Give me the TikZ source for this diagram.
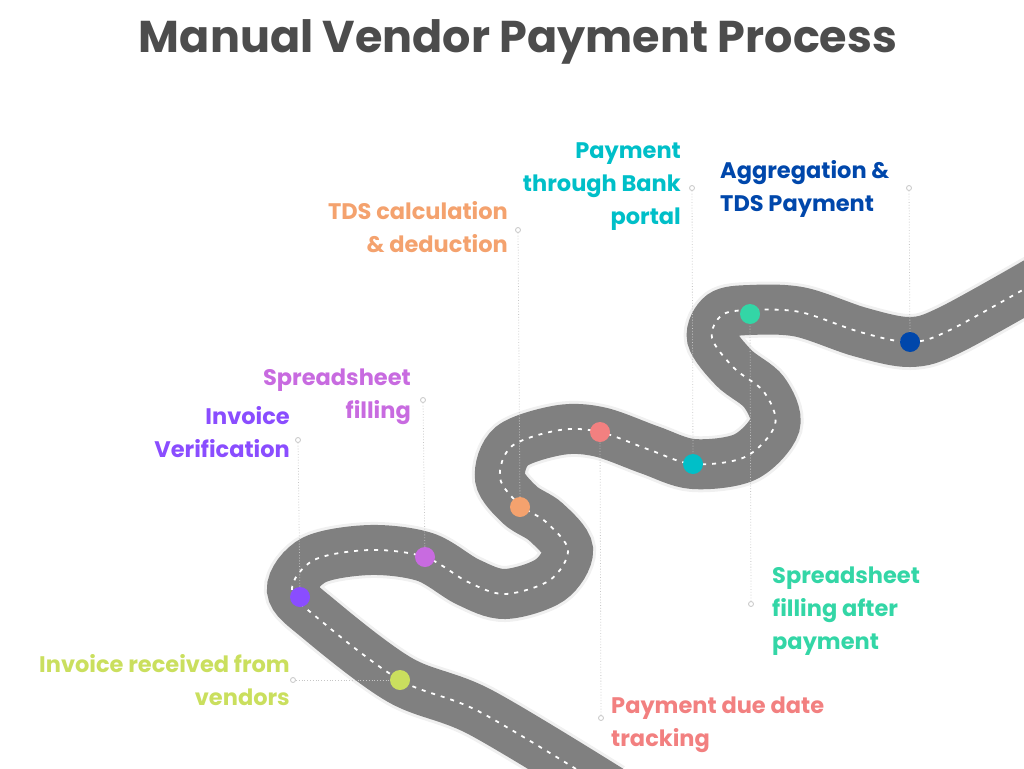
\documentclass[tikz,border=0pt]{standalone}
\usepackage{fontspec}
\setmainfont{Poppins}
\begin{document}
\begin{tikzpicture}[x=1pt,y=-1pt,
  lbl/.style={font=\bfseries\fontsize{22.5}{33}\selectfont,inner sep=0pt},
  dotc/.style={circle,minimum size=20pt,inner sep=0pt},
  pin/.style={circle,draw=gray!45,line width=0.8pt,minimum size=5pt,inner sep=0pt,fill=white},
  lead/.style={draw=gray!45,line width=0.8pt,dotted}]
\definecolor{cA}{HTML}{CADF5E}\definecolor{cB}{HTML}{8A4DFF}\definecolor{cC}{HTML}{C86BE0}
\definecolor{cD}{HTML}{F4A26E}\definecolor{cE}{HTML}{F28080}\definecolor{cF}{HTML}{00BFC8}
\definecolor{cG}{HTML}{33D6A6}\definecolor{cH}{HTML}{0047AB}
\useasboundingbox (0,0) rectangle (1024,768);
\clip (0,0) rectangle (1024,768);
\node[font=\bfseries\fontsize{44.5}{52}\selectfont,text=black!70] (title) at (518,42) {Manual Vendor Payment Process};
\def\road{plot[smooth,tension=0.55] coordinates{(610,790)(480,712)(400,680)(320,620)(292,590)(314,560)(370,550)(425,557)(468,582)(505,594)(550,580)(568,550)(546,522)(520,505)(500,478)(512,446)(560,430)(600,432)(650,450)(693,464)(745,457)(775,425)(764,392)(734,368)(712,338)(722,315)(750,310)(800,312)(860,332)(910,342)(950,330)(1040,280)}}
\draw[line width=56pt,black!6] \road;
\draw[line width=50pt,black!50] \road;
\draw[line width=1.8pt,white,dash pattern=on 4pt off 6pt] \road;
% pins
\node[pin] (p1) at (293,680) {};
\node[pin] (p2) at (298,440) {};
\node[pin] (p3) at (423,400) {};
\node[pin] (p4) at (518,230) {};
\node[pin] (p5) at (601,718) {};
\node[pin] (p6) at (692,188) {};
\node[pin] (p7) at (751,604) {};
\node[pin] (p8) at (909,188) {};
% dots
\node[dotc,fill=cA] (d1) at (400,680) {};
\node[dotc,fill=cB] (d2) at (300,597) {};
\node[dotc,fill=cC] (d3) at (425,557) {};
\node[dotc,fill=cD] (d4) at (520,507) {};
\node[dotc,fill=cE] (d5) at (600,432) {};
\node[dotc,fill=cF] (d6) at (693,464) {};
\node[dotc,fill=cG] (d7) at (750,314) {};
\node[dotc,fill=cH] (d8) at (910,342) {};
\path[lead] (p1) -- (d1); \path[lead] (p2) -- (d2); \path[lead] (p3) -- (d3);
\path[lead] (p4) -- (d4); \path[lead] (p5) -- (d5); \path[lead] (p6) -- (d6);
\path[lead] (p7) -- (d7); \path[lead] (p8) -- (d8);
% labels
\node[lbl,text=cA,align=right,anchor=north east] (l1) at (290,654) {Invoice received from\\vendors};
\node[lbl,text=cB,align=right,anchor=north east] (l2) at (290,406) {Invoice\\Verification};
\node[lbl,text=cC,align=right,anchor=north east] (l3) at (411,369) {Spreadsheet\\filling};
\node[lbl,text=cD,align=right,anchor=north east] (l4) at (508,201) {TDS calculation\\\& deduction};
\node[lbl,text=cE,align=left,anchor=north west] (l5) at (611,697) {Payment due date\\tracking};
\node[lbl,text=cF,align=right,anchor=north east] (l6) at (681,143) {Payment\\through Bank\\portal};
\node[lbl,text=cG,align=left,anchor=north west] (l7) at (772,567) {Spreadsheet\\filling after\\payment};
\node[lbl,text=cH,align=left,anchor=north west] (l8) at (720,160) {Aggregation \&\\TDS Payment};
\end{tikzpicture}
\end{document}
